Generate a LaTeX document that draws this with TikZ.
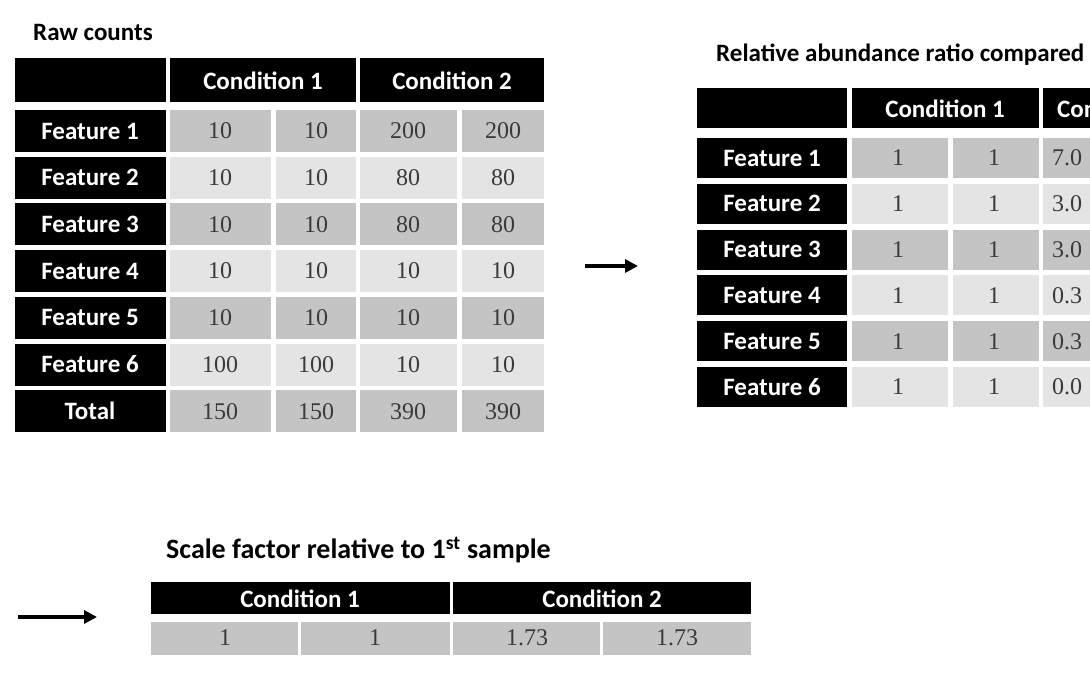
\documentclass[tikz,border=0pt]{standalone}
\usepackage{fontspec}
\setmainfont{Carlito}
\newfontfamily\numfont{Liberation Serif}
\usetikzlibrary{arrows.meta}
\definecolor{dk}{HTML}{C4C4C4}
\definecolor{lt}{HTML}{E4E4E4}
\definecolor{tx}{HTML}{3A3A3A}
\begin{document}
\begin{tikzpicture}[x=1pt,y=-1pt,
  blk/.style={fill=black,text=white,inner sep=0pt,font=\bfseries\fontsize{25}{25}\selectfont},
  ttl/.style={font=\bfseries\fontsize{25}{25}\selectfont,anchor=west,inner sep=0pt},
  num/.style={text=tx,inner sep=0pt,font=\numfont\fontsize{24}{24}\selectfont},
  arr/.style={-{Triangle[length=13pt,width=13pt]},line width=4pt}]
\useasboundingbox (0,0) rectangle (1090,674);
\clip (0,0) rectangle (1090,674);
% ---------- Raw counts ----------
\node[ttl] (t1) at (33,32) {Raw counts};
\fill[black] (15,58) rectangle (166,102);
\fill[black] (170,58) rectangle (356,102);
\fill[black] (360,58) rectangle (544,102);
\node[blk] (h11) at (263,81) {Condition 1};
\node[blk] (h12) at (452,81) {Condition 2};
\foreach \r/\lab/\a/\b/\c/\d [count=\i from 0] in {Feature 1/10/10/200/200/1,Feature 2/10/10/80/80/0,Feature 3/10/10/80/80/1,Feature 4/10/10/10/10/0,Feature 5/10/10/10/10/1,Feature 6/100/100/10/10/0,Total/150/150/390/390/1}{
  \pgfmathsetmacro\yt{110+\i*46.7}
  \pgfmathsetmacro\yb{\yt+42}
  \pgfmathsetmacro\ym{\yt+21}
  \ifnum\d=1 \def\cc{dk}\else\def\cc{lt}\fi
  \fill[black] (15,\yt) rectangle (166,\yb);
  \node[blk] (L\i) at (90,\ym) {\r};
  \fill[\cc] (170,\yt) rectangle (271,\yb);
  \fill[\cc] (276,\yt) rectangle (356,\yb);
  \fill[\cc] (360,\yt) rectangle (457,\yb);
  \fill[\cc] (462,\yt) rectangle (544,\yb);
  \node[num] (a\i) at (220,\ym) {\lab};
  \node[num] (b\i) at (316,\ym) {\a};
  \node[num] (c\i) at (408,\ym) {\b};
  \node[num] (e\i) at (503,\ym) {\c};
}
% ---------- middle arrow ----------
\coordinate (m1) at (585,266);
\coordinate (m2) at (638,266);
\draw[arr] (m1) -- (m2);
% ---------- Relative abundance ----------
\node[ttl] (t2) at (716,55) {Relative abundance ratio compared};
\fill[black] (697,88) rectangle (847,128);
\fill[black] (852,88) rectangle (1039,128);
\fill[black] (1043,88) rectangle (1200,128);
\node[blk] (h21) at (945,109) {Condition 1};
\node[blk,anchor=west] (h22) at (1057,109) {Condition 2};
\foreach \r/\v/\d [count=\i from 0] in {Feature 1/7.0/1,Feature 2/3.0/0,Feature 3/3.0/1,Feature 4/0.3/0,Feature 5/0.3/1,Feature 6/0.0/0}{
  \pgfmathsetmacro\yt{138+\i*45.8}
  \pgfmathsetmacro\yb{\yt+40}
  \pgfmathsetmacro\ym{\yt+20}
  \ifnum\d=1 \def\cc{dk}\else\def\cc{lt}\fi
  \fill[black] (697,\yt) rectangle (847,\yb);
  \node[blk] (R\i) at (772,\ym) {\r};
  \fill[\cc] (852,\yt) rectangle (948,\yb);
  \fill[\cc] (953,\yt) rectangle (1039,\yb);
  \fill[\cc] (1043,\yt) rectangle (1200,\yb);
  \node[num] (p\i) at (898,\ym) {1};
  \node[num] (q\i) at (994,\ym) {1};
  \node[num,anchor=west] (s\i) at (1052,\ym) {\v};
}
% ---------- Scale factor ----------
\node[ttl,font=\bfseries\fontsize{28}{28}\selectfont] (t3) at (166,550) {Scale factor relative to 1\textsuperscript{st} sample};
\fill[black] (151,582) rectangle (450,614);
\fill[black] (453,582) rectangle (751,614);
\node[blk] (h31) at (300,599) {Condition 1};
\node[blk] (h32) at (602,599) {Condition 2};
\fill[dk] (151,622) rectangle (298,655);
\fill[dk] (301,622) rectangle (450,655);
\fill[dk] (453,622) rectangle (600,655);
\fill[dk] (603,622) rectangle (751,655);
\node[num] (f1) at (225,638) {1};
\node[num] (f2) at (375,638) {1};
\node[num] (f3) at (527,638) {1.73};
\node[num] (f4) at (677,638) {1.73};
\coordinate (n1) at (18,617);
\coordinate (n2) at (97,617);
\draw[arr] (n1) -- (n2);
\end{tikzpicture}
\end{document}
